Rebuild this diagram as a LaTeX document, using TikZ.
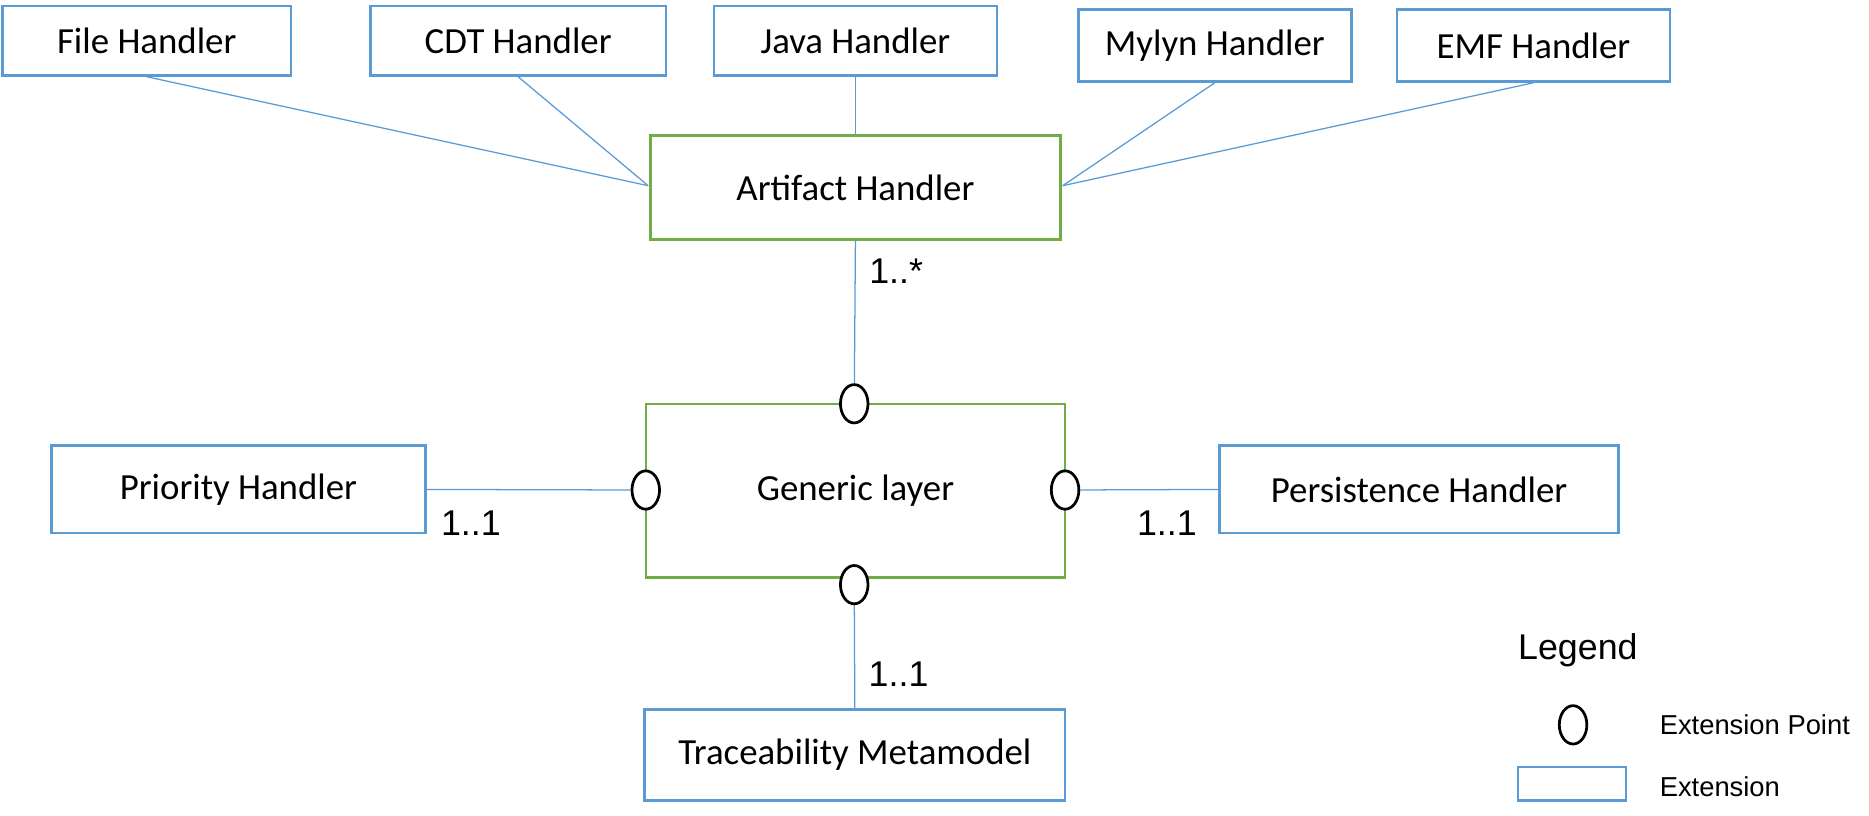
\documentclass[tikz,border=0pt]{standalone}
\usepackage{fontspec}
\usetikzlibrary{shapes.geometric}
\setmainfont{Carlito}
\newfontfamily\arialf{Liberation Sans}
\definecolor{eblue}{RGB}{91,155,213}
\definecolor{egreen}{RGB}{112,173,71}
\begin{document}
\begin{tikzpicture}[x=0.02cm,y=-0.02cm,
 ext/.style={draw=eblue,line width=1.2pt,font=\fontsize{17.5}{20}\selectfont,inner sep=0pt},
 core/.style={draw=egreen,line width=1.2pt,font=\fontsize{17.5}{20}\selectfont,inner sep=0pt},
 conn/.style={draw=eblue,line width=0.6pt},
 ep/.style={draw=black,fill=white,line width=1.3pt,ellipse,minimum width=0.46cm,minimum height=0.64cm,inner sep=0pt},
 mult/.style={font=\arialf\fontsize{17}{20}\selectfont}]
\useasboundingbox (0,0) rectangle (1560,681);
\node[ext,minimum width=4.82cm,minimum height=1.16cm] (file) at (122.5,34) {File Handler};
\node[ext,minimum width=4.94cm,minimum height=1.16cm] (cdt) at (432.5,34) {CDT Handler};
\node[ext,minimum width=4.72cm,minimum height=1.16cm] (java) at (714,34) {Java Handler};
\node[ext,minimum width=4.56cm,minimum height=1.2cm] (mylyn) at (1014,38) {Mylyn Handler};
\node[ext,minimum width=4.56cm,minimum height=1.2cm] (emf) at (1280,38) {EMF Handler};
\node[core,minimum width=6.84cm,minimum height=1.74cm] (art) at (714,156.5) {Artifact Handler};
\node[core,minimum width=7cm,minimum height=2.9cm] (gen) at (714,409.5) {Generic layer};
\node[ext,minimum width=6.24cm,minimum height=1.46cm] (prio) at (199,408.5) {Priority Handler};
\node[ext,minimum width=6.66cm,minimum height=1.46cm] (pers) at (1184.5,408.5) {Persistence Handler};
\node[ext,minimum width=7.02cm,minimum height=1.52cm] (trace) at (713.5,630) {Traceability Metamodel};
\coordinate (aw) at (541,155);
\coordinate (ae) at (887,155);
\draw[conn] (file.south) -- (aw);
\draw[conn] (cdt.south) -- (aw);
\draw[conn] (java.south) -- (art.north);
\draw[conn] (mylyn.south) -- (ae);
\draw[conn] (emf.south) -- (ae);
\node[ep] (et) at (713,337) {};
\node[ep] (el) at (539,409) {};
\node[ep] (er) at (889,409) {};
\node[ep] (eb) at (713,488) {};
\draw[conn] (art.south) -- (et);
\draw[conn] (prio.east) -- (el);
\draw[conn] (er) -- (pers.west);
\draw[conn] (eb) -- (trace.north);
\node[mult] (m1) at (748,226) {1..*};
\node[mult] (m2) at (393,437) {1..1};
\node[mult] (m3) at (974,437) {1..1};
\node[mult] (m4) at (750,563) {1..1};
\node[font=\arialf\fontsize{17}{20}\selectfont] (leg) at (1317,543) {Legend};
\node[ep] (lep) at (1313,605) {};
\node[font=\arialf\fontsize{13}{16}\selectfont,anchor=west,inner sep=0pt] (lept) at (1385,605) {Extension Point};
\node[draw=eblue,line width=1.2pt,minimum width=1.8cm,minimum height=0.56cm,inner sep=0pt] (lbox) at (1312,654) {};
\node[font=\arialf\fontsize{13}{16}\selectfont,anchor=west,inner sep=0pt] (lboxt) at (1385,657) {Extension};
\end{tikzpicture}
\end{document}
